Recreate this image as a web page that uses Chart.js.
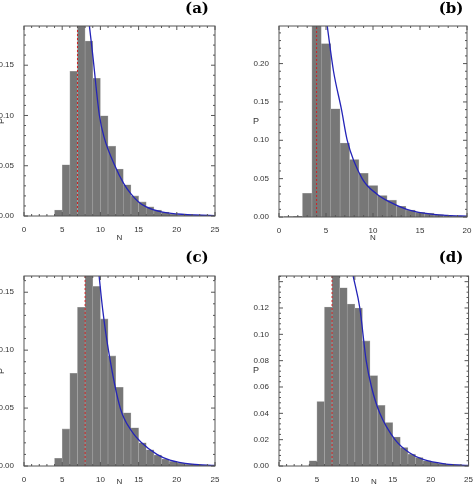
<!DOCTYPE html>
<html><head><meta charset="utf-8">
<script src="https://cdn.jsdelivr.net/npm/chart.js@4"></script>
<style>
body{margin:0;background:#fff;width:474px;height:487px;position:relative;overflow:hidden}
.p{position:absolute}
</style></head><body>
<div class="p" style="left:0;top:0"><canvas id="ca" width="237" height="243"></canvas></div>
<div class="p" style="left:237px;top:0"><canvas id="cb" width="237" height="243"></canvas></div>
<div class="p" style="left:0;top:243px"><canvas id="cc" width="237" height="244"></canvas></div>
<div class="p" style="left:237px;top:243px"><canvas id="cd" width="237" height="244"></canvas></div>
<script>
// histogram bins (first bin start) and heights
const binsA = [4,5,6,7,8,9,10,11,12,13,14,15,16,17,18,19,20,21,22,23,24];
const histA = [0.006,0.051,0.144,0.21,0.174,0.137,0.0997,0.0695,0.0467,0.031,0.020,0.014,0.009,0.006,0.004,0.002,0.001,0.0007,0.0005,0.0003,0.0002];
const curveAx = [8.56,9,9.87,10.5,11.9,13,14,15,16,18,20,25];
const curveAy = [0.189,0.16,0.10,0.078,0.05,0.033,0.022,0.014,0.009,0.004,0.002,0.0003];

// (b) bins are centred on integers
const binsB = [1,2,3,4,5,6,7,8,9,10,11,12,13,14,15,16,17,18,19];
const histB = [0.0005,0.0008,0.031,0.27,0.226,0.141,0.0965,0.075,0.057,0.041,0.028,0.022,0.014,0.009,0.006,0.005,0.003,0.002,0.001];
const curveBx = [5.13,5.8,6.65,7.26,8.85,10.4,11.7,13.6,15.4,17.9,20];
const curveBy = [0.249,0.19,0.14,0.10,0.05,0.03,0.02,0.01,0.005,0.002,0.001];

const binsC = [4,5,6,7,8,9,10,11,12,13,14,15,16,17,18,19,20,21,22,23,24];
const histC = [0.0066,0.032,0.080,0.137,0.18,0.155,0.127,0.095,0.068,0.046,0.033,0.020,0.014,0.0095,0.006,0.004,0.0026,0.0015,0.001,0.0005,0.0005];
const curveCx = [9.83,10.3,11.05,12.6,14.1,15.4,17.4,19.1,22,25];
const curveCy = [0.164,0.135,0.10,0.05,0.03,0.02,0.01,0.005,0.0015,0.0005];

const binsD = [4,5,6,7,8,9,10,11,12,13,14,15,16,17,18,19,20,21,22,23,24];
const histD = [0.004,0.049,0.1207,0.16,0.1354,0.123,0.12,0.095,0.0686,0.046,0.033,0.022,0.014,0.009,0.0064,0.004,0.003,0.002,0.0015,0.001,0.0005];
const curveDx = [9.78,10.66,11.5,12.2,13.3,15.3,17.2,19,22,25];
const curveDy = [0.1443,0.12,0.08,0.06,0.04,0.02,0.01,0.005,0.0015,0.0005];

const panels = [
  {id:'ca', tag:'(a)', bins:binsA, hist:histA, off:0.5, cx:curveAx, cy:curveAy, red:7, xmax:25, ymax:0.189, step:0.05, yw:24, top:26, right:22, xh:27, ylab:'P', ylabX:2, rot:true, tagX:197, tagY:9},
  {id:'cb', tag:'(b)', bins:binsB, hist:histB, off:0, cx:curveBx, cy:curveBy, red:4, xmax:20, ymax:0.249, step:0.05, yw:42, top:26, right:7, xh:26, ylab:'P', ylabX:19, rot:false, tagX:214, tagY:9},
  {id:'cc', tag:'(c)', bins:binsC, hist:histC, off:0.5, cx:curveCx, cy:curveCy, red:8, xmax:25, ymax:0.164, step:0.05, yw:24, top:33, right:22, xh:21, ylab:'P', ylabX:2, rot:true, tagX:197, tagY:15},
  {id:'cd', tag:'(d)', bins:binsD, hist:histD, off:0.5, cx:curveDx, cy:curveDy, red:7, xmax:25, ymax:0.1443, step:0.02, yw:42, top:33, right:5, xh:21, ylab:'P', ylabX:19, rot:false, tagX:214, tagY:15}
];

const tickFont = {family:'Liberation Sans', size:8};

panels.forEach(p => {
  const decor = {
    id:'decor',
    afterDraw(chart) {
      const c = chart.ctx, a = chart.chartArea;
      c.save();
      c.strokeStyle = '#555'; c.lineWidth = 1;
      c.strokeRect(a.left, a.top, a.right - a.left, a.bottom - a.top);
      // mirrored ticks on all sides
      const xs = chart.scales.x, ys = chart.scales.y;
      c.beginPath();
      for (let v = 0; v <= p.xmax; v += 1) {
        const x = xs.getPixelForValue(v), l = v % 5 === 0 ? 4 : 2;
        c.moveTo(x, a.top); c.lineTo(x, a.top + l);
        c.moveTo(x, a.bottom); c.lineTo(x, a.bottom - l);
      }
      for (let v = 0; v <= p.ymax + 1e-9; v += p.step / 5) {
        const y = ys.getPixelForValue(v), l = Math.abs(v / p.step - Math.round(v / p.step)) < 1e-6 ? 4 : 2;
        c.moveTo(a.right, y); c.lineTo(a.right - l, y);
        c.moveTo(a.left, y); c.lineTo(a.left + l, y);
      }
      c.stroke();
      c.fillStyle = '#000';
      c.font = 'bold 15px "DejaVu Serif"';
      c.textAlign = 'center'; c.textBaseline = 'middle';
      c.fillText(p.tag, p.tagX, p.tagY);
      c.font = '9px "Liberation Sans"'; c.fillStyle = '#333';
      const ym = (a.top + a.bottom) / 2;
      if (p.rot) { c.translate(p.ylabX, ym); c.rotate(-Math.PI / 2); c.fillText(p.ylab, 0, 0); }
      else c.fillText(p.ylab, p.ylabX, ym);
      c.restore();
    }
  };
  new Chart(document.getElementById(p.id), {
    type:'bar',
    data:{datasets:[
      {type:'line', data:p.cx.map((x,i)=>({x, y:p.cy[i]})), borderColor:'#2424b8', borderWidth:1.3, pointRadius:0, cubicInterpolationMode:'monotone', fill:false, order:0},
      {type:'line', data:[{x:p.red,y:0},{x:p.red,y:p.ymax}], borderColor:'#d02020', borderWidth:1, borderDash:[2,2], pointRadius:0, order:1},
      {data:p.bins.map((b,i)=>({x:b + p.off, y:p.hist[i]})), backgroundColor:'#777777', borderColor:'#a8a8a8', borderWidth:0.6, barPercentage:1, categoryPercentage:1, order:2}
    ]},
    options:{
      responsive:false, animation:false,
      layout:{padding:{top:p.top, right:p.right, left:0, bottom:0}},
      plugins:{legend:{display:false}, tooltip:{enabled:false}},
      scales:{
        x:{type:'linear', offset:false, min:0, max:p.xmax, grid:{display:false}, border:{display:false},
           ticks:{stepSize:5, font:tickFont, color:'#333', padding:1, maxRotation:0},
           title:{display:true, text:'N', font:tickFont, color:'#333', padding:{top:0,bottom:0}},
           afterFit(s){ s.height = p.xh; }},
        y:{min:0, max:p.ymax, grid:{display:false}, border:{display:false},
           ticks:{stepSize:p.step, font:tickFont, color:'#333', padding:2,
             callback:v=>Math.abs(v / p.step - Math.round(v / p.step)) < 1e-6 ? v.toFixed(2) : ''},
           afterFit(s){ s.width = p.yw; }}
      }
    },
    plugins:[decor]
  });
});
</script>
</body></html>
